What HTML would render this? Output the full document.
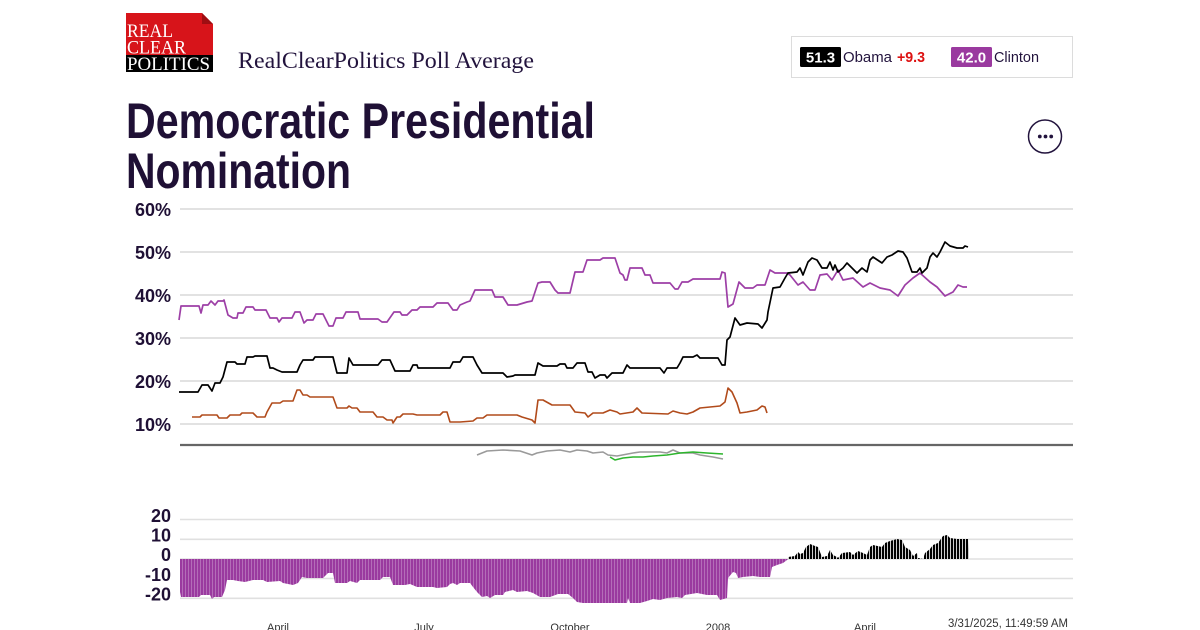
<!DOCTYPE html>
<html>
<head>
<meta charset="utf-8">
<style>
  html,body{margin:0;padding:0;background:#fff;}
  body{width:1200px;height:630px;overflow:hidden;}
  svg{display:block;}
  text{font-family:"Liberation Sans",Arial,sans-serif;}
</style>
</head>
<body>
<svg width="1200" height="630" viewBox="0 0 1200 630" xmlns="http://www.w3.org/2000/svg">
  <defs>
    <pattern id="pp" patternUnits="userSpaceOnUse" width="3" height="10">
      <rect x="0" y="0" width="3" height="10" fill="#c58fc9"/>
      <rect x="0" y="0" width="2.4" height="10" fill="#9a3a9f"/>
    </pattern>
    <pattern id="bp" patternUnits="userSpaceOnUse" width="3" height="10">
      <rect x="0" y="0" width="3" height="10" fill="#ffffff"/>
      <rect x="0" y="0" width="2.2" height="10" fill="#000000"/>
    </pattern>
  </defs>

  <!-- Logo -->
  <polygon points="126,13 202,13 213,24 213,55 126,55" fill="#d7141a"/>
  <polygon points="202,13 213,24 202,24" fill="#9e0e12"/>
  <rect x="126" y="55" width="87" height="17" fill="#000"/>
  <text x="127" y="37" font-family="Liberation Serif, serif" font-size="19" fill="#fff" textLength="46" lengthAdjust="spacingAndGlyphs" style="font-family:'Liberation Serif',serif">REAL</text>
  <text x="127" y="53.5" font-size="19" fill="#fff" textLength="59" lengthAdjust="spacingAndGlyphs" style="font-family:'Liberation Serif',serif">CLEAR</text>
  <text x="127" y="70" font-size="19" fill="#fff" textLength="83" lengthAdjust="spacingAndGlyphs" style="font-family:'Liberation Serif',serif">POLITICS</text>

  <text x="238" y="68" font-size="23" fill="#22133d" textLength="296" lengthAdjust="spacingAndGlyphs" style="font-family:'Liberation Serif',serif">RealClearPolitics Poll Average</text>

  <!-- Title -->
  <text x="126" y="138" font-size="50" font-weight="bold" fill="#1f1035" textLength="469" lengthAdjust="spacingAndGlyphs">Democratic Presidential</text>
  <text x="126" y="188" font-size="50" font-weight="bold" fill="#1f1035" textLength="225" lengthAdjust="spacingAndGlyphs">Nomination</text>

  <!-- Legend box -->
  <rect x="791.5" y="36.5" width="281" height="41" fill="#fff" stroke="#dcdcdc" stroke-width="1"/>
  <rect x="800" y="47" width="41" height="20" rx="1.5" fill="#000"/>
  <text x="820.5" y="62.5" font-size="15" font-weight="bold" fill="#fff" text-anchor="middle">51.3</text>
  <text x="843" y="62" font-size="15" fill="#22133d" textLength="49" lengthAdjust="spacingAndGlyphs">Obama</text>
  <text x="897" y="62" font-size="15" font-weight="bold" fill="#dd1111" textLength="28" lengthAdjust="spacingAndGlyphs">+9.3</text>
  <rect x="951" y="47" width="41" height="20" rx="1.5" fill="#9a3a9f"/>
  <text x="971.5" y="62.5" font-size="15" font-weight="bold" fill="#fff" text-anchor="middle">42.0</text>
  <text x="994" y="62" font-size="15" fill="#22133d" textLength="45" lengthAdjust="spacingAndGlyphs">Clinton</text>

  <!-- More button -->
  <circle cx="1045" cy="136.5" r="16.5" fill="#fff" stroke="#22133d" stroke-width="1.5"/>
  <circle cx="1039.8" cy="136.5" r="1.9" fill="#22133d"/>
  <circle cx="1045.5" cy="136.5" r="1.9" fill="#22133d"/>
  <circle cx="1051.2" cy="136.5" r="1.9" fill="#22133d"/>

  <!-- Top chart gridlines -->
  <g stroke="#e2e2e2" stroke-width="2">
    <line x1="180" y1="209" x2="1073" y2="209"/>
    <line x1="180" y1="252" x2="1073" y2="252"/>
    <line x1="180" y1="295" x2="1073" y2="295"/>
    <line x1="180" y1="338" x2="1073" y2="338"/>
    <line x1="180" y1="381" x2="1073" y2="381"/>
    <line x1="180" y1="424" x2="1073" y2="424"/>
  </g>
  <g font-size="18" font-weight="bold" fill="#1f1035" text-anchor="end">
    <text x="171" y="216">60%</text>
    <text x="171" y="259">50%</text>
    <text x="171" y="302">40%</text>
    <text x="171" y="345">30%</text>
    <text x="171" y="388">20%</text>
    <text x="171" y="431">10%</text>
  </g>

  <!-- Gray / green minor candidates (below axis) -->
  <polyline fill="none" stroke="#9a9a9a" stroke-width="1.6" stroke-linejoin="round"
    points="477,455 487,451 503,450 520,451 532,455 537,453 547,451 560,450 570,452 577,450 587,451 593,453 603,452 608,455 617,456 633,453 640,452 660,452 667,453 673,450 680,453 693,453 700,455 713,457 723,459"/>
  <polyline fill="none" stroke="#2db52d" stroke-width="1.6" stroke-linejoin="round"
    points="610,457 615,460 623,458 633,457 643,457 653,456 667,455 680,453 693,452 707,453 723,454"/>

  <!-- Axis line -->
  <line x1="180" y1="445" x2="1073" y2="445" stroke="#666" stroke-width="2.2"/>

  <!-- Edwards -->
  <polyline fill="none" stroke="#b14b1b" stroke-width="1.6" stroke-linejoin="round"
    points="192,417 200,417 202,415 217,415 219,418 227,418 230,415 240,415 242,413 253,413 257,417 265,417 267,412 272,403 280,403 283,401 293,401 297,390 300,390 303,395 307,395 310,397 333,397 337,408 347,408 349,406 352,408 357,408 360,412 373,412 377,417 383,417 387,420 392,420 393,423 397,417 400,417 403,414 413,414 417,415 440,415 443,412 447,412 450,422 457,422 460,422 473,421 477,418 483,418 487,415 493,415 517,415 522,417 532,420 535,423 538,400 543,400 552,405 570,405 575,412 585,413 588,417 593,413 603,413 610,410 617,412 620,414 633,412 637,408 642,413 668,414 673,411 680,413 687,414 693,412 700,408 720,406 725,402 728,388 732,392 737,403 740,413 747,412 757,410 762,406 765,407 767,413"/>

  <!-- Clinton -->
  <polyline fill="none" stroke="#9d3fa6" stroke-width="1.7" stroke-linejoin="round"
    points="179,320 181,306 199,306 201,313 203,305 208,305 211,301 215,305 218,301 223,301 224,300 228,315 233,318 237,318 238,313 243,313 246,307 253,307 255,310 266,310 270,318 277,318 279,322 282,318 292,318 295,312 300,312 304,323 307,320 313,320 316,314 323,314 326,320 329,326 333,326 336,318 343,318 346,312 358,312 360,319 378,319 382,322 387,322 394,312 400,312 402,315 407,315 412,310 417,310 420,307 433,307 437,303 448,303 453,310 457,310 460,305 467,302 470,301 475,290 492,290 495,297 503,297 508,305 517,305 527,302 532,301 538,283 542,282 550,282 555,290 558,293 570,293 575,272 583,272 587,260 600,260 603,258 615,258 620,273 623,275 625,280 627,280 630,268 642,268 645,275 650,275 653,283 670,283 675,289 678,289 682,282 688,282 693,279 720,279 722,272 725,273 728,307 733,304 739,282 745,288 753,288 757,285 765,285 770,270 775,273 787,273 790,275 798,285 803,282 810,290 815,290 820,275 827,274 832,280 838,270 843,280 853,278 863,287 870,283 880,288 890,290 898,296 905,285 913,278 920,273 930,282 937,287 945,296 953,292 958,285 963,287 967,287"/>

  <!-- Obama -->
  <polyline fill="none" stroke="#000" stroke-width="1.7" stroke-linejoin="round"
    points="179,392 198,392 202,385 208,385 212,391 215,383 220,383 223,377 227,362 235,362 237,364 245,364 247,357 253,357 255,356 267,356 270,368 273,368 277,370 282,372 297,372 300,365 303,360 313,360 315,357 333,357 337,373 347,373 349,358 353,365 378,365 382,360 390,360 395,371 410,371 413,365 417,365 418,368 450,368 453,362 460,362 463,357 473,357 477,365 482,373 503,373 507,377 513,376 515,375 535,375 538,363 543,366 557,366 560,364 565,364 567,368 573,368 577,363 585,363 588,372 592,372 595,378 600,375 605,375 607,378 612,373 623,373 627,365 630,368 660,368 664,373 667,368 677,368 680,363 683,357 693,357 697,355 700,358 718,358 722,365 725,365 727,340 730,337 735,318 740,325 747,323 758,324 762,328 767,320 768,312 773,288 780,287 785,278 788,273 797,272 800,268 803,275 808,262 812,258 817,260 822,268 827,268 830,262 833,270 835,265 838,272 843,268 847,263 852,268 857,273 862,268 867,272 870,260 873,257 882,263 887,257 892,255 898,251 903,252 907,258 912,272 917,272 920,268 922,273 927,268 930,257 933,253 937,257 940,252 945,242 950,246 957,248 963,248 965,246 968,247"/>

  <!-- Bottom chart gridlines -->
  <g stroke="#e0e0e0" stroke-width="1.6">
    <line x1="180" y1="519.5" x2="1073" y2="519.5"/>
    <line x1="180" y1="539.3" x2="1073" y2="539.3"/>
    <line x1="180" y1="559" x2="1073" y2="559"/>
    <line x1="180" y1="578.5" x2="1073" y2="578.5"/>
    <line x1="180" y1="598.3" x2="1073" y2="598.3"/>
  </g>
  <g font-size="18" font-weight="bold" fill="#1f1035" text-anchor="end">
    <text x="171" y="522">20</text>
    <text x="171" y="541.5">10</text>
    <text x="171" y="561">0</text>
    <text x="171" y="581">-10</text>
    <text x="171" y="600.5">-20</text>
  </g>

  <!-- Spread bars (negative, purple) -->
  <polygon fill="url(#pp)"
    points="180,559 180,592 181,597 199,597 201,595 210,595 212,599 214,597 222,597 225,590 227,580 233,580 238,581 245,582 253,580 263,580 267,582 280,581 283,583 293,585 298,583 302,577 307,578 323,578 328,573 333,573 335,583 347,583 350,581 357,583 360,580 380,580 383,577 390,577 393,585 405,585 410,584 417,587 433,587 437,588 447,587 450,584 453,583 457,585 460,583 470,583 473,587 477,592 482,597 487,596 490,598 495,595 503,595 505,592 513,590 517,592 527,591 533,593 540,597 550,597 558,594 568,594 573,598 577,602 583,603 587,603 627,603 628,598 630,603 640,603 647,601 653,599 660,600 667,598 677,597 682,598 685,595 697,593 707,595 717,595 720,600 727,598 728,578 733,572 736,573 738,578 743,577 753,576 760,577 767,577 770,577 772,567 777,565 783,563 787,560 788,559"/>
  <!-- Spread bars (positive, black) -->
  <polygon fill="url(#bp)"
    points="788,559 788,557 795,556 798,552 800,554 803,553 806,547 810,544 815,546 818,547 820,552 822,557 827,556 830,550 833,555 837,557 838,558 842,553 850,552 853,555 858,551 863,553 867,555 870,547 873,545 882,547 885,543 890,541 897,539 902,540 905,547 910,550 913,556 917,553 918,558 923,559 925,553 930,549 933,545 938,543 943,536 947,535 950,538 957,539 968,539 969,559"/>

  <!-- X axis labels -->
  <g font-size="11" fill="#333" text-anchor="middle">
    <text x="278" y="631">April</text>
    <text x="424" y="631">July</text>
    <text x="570" y="631">October</text>
    <text x="718" y="631">2008</text>
    <text x="865" y="631">April</text>
  </g>
  <text x="948" y="627" font-size="11.5" fill="#333" textLength="120" lengthAdjust="spacingAndGlyphs">3/31/2025, 11:49:59 AM</text>
</svg>
</body>
</html>
